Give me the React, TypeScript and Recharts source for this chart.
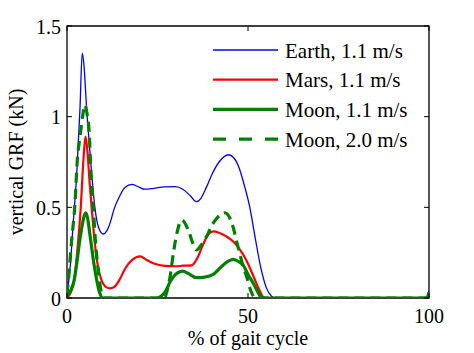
import React from 'react';
import { LineChart, Line, XAxis, YAxis, ReferenceArea, Legend, Label } from 'recharts';

// gait cycle (%) vs vertical GRF (kN)
const earthPts: [number, number][] = [
  [0, 0.02], [1, 0.2], [1.6, 0.38], [2.7, 0.69], [3.6, 1.05], [4.2, 1.35], [4.7, 1.28], [5.4, 1.05],
  [6.2, 0.84], [6.8, 0.69], [7.7, 0.5], [8.7, 0.39], [10, 0.353], [11, 0.37], [12, 0.42], [13, 0.49],
  [14.5, 0.56], [16, 0.61], [18, 0.627], [20, 0.61], [21.5, 0.6], [24, 0.605], [27, 0.613], [29.8, 0.614],
  [32, 0.6], [34, 0.565], [35.8, 0.531], [37, 0.55], [38.5, 0.61], [40, 0.68], [42, 0.75], [44.6, 0.79],
  [46, 0.775], [47.5, 0.72], [49, 0.62], [50.5, 0.5], [52, 0.33], [53.5, 0.17], [55, 0.06], [56.5, 0.01],
  [57.5, 0], [99.3, 0], [100, 0.04],
];

const marsPts: [number, number][] = [
  [0, 0], [1, 0.03], [2, 0.1], [2.8, 0.25], [3.8, 0.5], [4.5, 0.75], [5.1, 0.89], [5.6, 0.82],
  [6.2, 0.65], [6.8, 0.5], [7.7, 0.3], [8.5, 0.18], [9.5, 0.1], [10.5, 0.065], [11.9, 0.053], [13, 0.06],
  [14.5, 0.1], [16, 0.16], [18, 0.21], [20.2, 0.23], [22, 0.21], [24, 0.19], [27, 0.177], [30, 0.175],
  [32, 0.178], [34.4, 0.18], [36, 0.22], [37.5, 0.29], [39, 0.35], [40.4, 0.367], [42, 0.36], [44, 0.34],
  [46, 0.31], [47.8, 0.265], [49.5, 0.21], [51.5, 0.12], [53, 0.05], [54.2, 0.005], [55, 0], [100, 0],
];

const moonSlowPts: [number, number][] = [
  [0, 0.01], [1, 0.04], [2, 0.1], [2.7, 0.19], [3.4, 0.3], [4.1, 0.39], [4.7, 0.45], [5.2, 0.47],
  [5.7, 0.44], [6.2, 0.37], [6.8, 0.28], [7.5, 0.18], [8.2, 0.1], [9, 0.03], [9.8, 0], [24.8, 0],
  [26, 0.01], [27.3, 0.04], [28.5, 0.09], [30, 0.13], [32, 0.148], [33.5, 0.135], [35.8, 0.112], [38, 0.115],
  [40.4, 0.13], [42.5, 0.17], [44.3, 0.2], [45.9, 0.213], [47.5, 0.2], [48.7, 0.18], [50, 0.13], [51.5, 0.08],
  [52.8, 0.03], [53.8, 0], [99.3, 0], [100, 0.03],
];

const moonFastPts: [number, number][] = [
  [0, 0.02], [0.4, 0.1], [1.2, 0.3], [2.2, 0.52], [2.85, 0.76], [3.6, 0.89], [4.3, 1.0], [4.9, 1.065],
  [5.5, 1.02], [6.2, 0.89], [6.5, 0.74], [7.3, 0.49], [7.9, 0.3], [8.6, 0.16], [9.3, 0.05], [10, 0],
  [27, 0], [27.5, 0.03], [28.5, 0.12], [29.4, 0.25], [30.5, 0.37], [31.7, 0.43], [33.5, 0.375], [34.8, 0.3],
  [35.8, 0.265], [37, 0.29], [38.6, 0.34], [40, 0.4], [41.4, 0.44], [43.6, 0.47], [45, 0.44], [45.9, 0.39],
  [47, 0.3], [47.8, 0.24], [48.7, 0.17], [49.6, 0.12], [50.6, 0.05], [51.5, 0.01], [52, 0], [100, 0],
];

const xTicks = [0, 50, 100];
const yTicks = [0, 0.5, 1, 1.5];
const xTickLabels = ['0', '50', '100'];
const yTickLabels = ['0', '0.5', '1', '1.5'];

const series = [
  { name: 'Earth, 1.1 m/s', pts: earthPts, color: '#0000ff', width: 1.3, dash: undefined },
  { name: 'Mars, 1.1 m/s', pts: marsPts, color: '#ff0000', width: 2.2, dash: undefined },
  { name: 'Moon, 1.1 m/s', pts: moonSlowPts, color: '#008000', width: 3.2, dash: undefined },
  { name: 'Moon, 2.0 m/s', pts: moonFastPts, color: '#008000', width: 3.2, dash: '10 6' },
];

const W = 474;
const H = 353;
const LEFT = 67;
const RIGHT = 429;
const TOP = 26;
const BOTTOM = 298;
const FONT = '"Liberation Serif", "Times New Roman", serif';

const toRows = (pts: [number, number][]) => pts.map(([x, y]) => ({ x, y }));

function XTick({ x, payload }: any) {
  const i = xTicks.indexOf(payload.value);
  return (
    <g>
      <line x1={x} x2={x} y1={BOTTOM} y2={BOTTOM - 5} stroke="#000" />
      <line x1={x} x2={x} y1={TOP} y2={TOP + 5} stroke="#000" />
      <text x={x} y={BOTTOM + 25} textAnchor="middle" fontSize={20} fontFamily={FONT} fill="#000">
        {xTickLabels[i]}
      </text>
    </g>
  );
}

function YTick({ y, payload }: any) {
  const i = yTicks.indexOf(payload.value);
  return (
    <g>
      <line x1={LEFT} x2={LEFT + 5} y1={y} y2={y} stroke="#000" />
      <line x1={RIGHT} x2={RIGHT - 5} y1={y} y2={y} stroke="#000" />
      <text x={LEFT - 6} y={y + 7.5} textAnchor="end" fontSize={20} fontFamily={FONT} fill="#000">
        {yTickLabels[i]}
      </text>
    </g>
  );
}

function LegendBox() {
  return (
    <svg width={225} height={120} style={{ display: 'block', overflow: 'visible' }}>
      {series.map((s, i) => {
        const cy = 15 + i * 29.7;
        return (
          <g key={s.name}>
            <line x1={8} x2={73} y1={cy} y2={cy} stroke={s.color} strokeWidth={s.width}
              strokeDasharray={s.dash ? '13 13' : undefined} />
            <text x={80} y={cy + 7.5} fontSize={21} fontFamily={FONT} fill="#000">{s.name}</text>
          </g>
        );
      })}
    </svg>
  );
}

export default function App() {
  return (
    <div style={{ position: 'absolute', left: 0, top: 0, width: W, height: H, background: '#fff' }}>
      <LineChart width={W} height={H} margin={{ top: TOP, right: W - RIGHT, bottom: 0, left: 0 }}>
        <XAxis
          type="number"
          dataKey="x"
          domain={[0, 100]}
          ticks={xTicks}
          allowDataOverflow
          height={H - BOTTOM}
          axisLine={false}
          tickLine={false}
          tick={(p: any) => <XTick {...p} />}
        >
          <Label
            content={() => (
              <text x={(LEFT + RIGHT) / 2} y={345} textAnchor="middle" fontSize={20} fontFamily={FONT} fill="#000">
                % of gait cycle
              </text>
            )}
          />
        </XAxis>
        <YAxis
          type="number"
          domain={[0, 1.5]}
          ticks={yTicks}
          allowDataOverflow
          width={LEFT}
          axisLine={false}
          tickLine={false}
          tick={(p: any) => <YTick {...p} />}
        >
          <Label
            content={() => (
              <text x={23} y={(TOP + BOTTOM) / 2} textAnchor="middle" fontSize={20} fontFamily={FONT} fill="#000"
                transform={`rotate(-90, 23, ${(TOP + BOTTOM) / 2})`}>
                vertical GRF (kN)
              </text>
            )}
          />
        </YAxis>
        <ReferenceArea x1={0} x2={100} y1={0} y2={1.5} fill="none" stroke="#000" strokeWidth={1.3} ifOverflow="visible" />
        {series.map((s) => (
          <Line
            key={s.name}
            data={toRows(s.pts)}
            dataKey="y"
            name={s.name}
            type="monotone"
            stroke={s.color}
            strokeWidth={s.width}
            strokeDasharray={s.dash}
            dot={false}
            activeDot={false}
            isAnimationActive={false}
          />
        ))}
        <Legend
          layout="vertical"
          align="center"
          verticalAlign="middle"
          content={() => <LegendBox />}
          wrapperStyle={{ left: 205, top: 35, width: 225, height: 120, pointerEvents: 'none' }}
        />
      </LineChart>
    </div>
  );
}
